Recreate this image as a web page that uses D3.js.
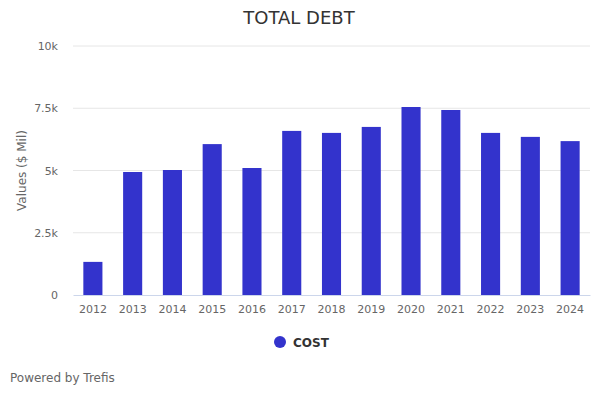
<!DOCTYPE html>
<html>
<head>
<meta charset="utf-8">
<script src="https://cdn.jsdelivr.net/npm/d3@7"></script>
<style>
  body { margin: 0; background: #fff; }
  text { font-family: "DejaVu Sans", sans-serif; }
</style>
</head>
<body>
<div id="chart"></div>
<script>
var years = ["2012", "2013", "2014", "2015", "2016", "2017", "2018", "2019", "2020", "2021", "2022", "2023", "2024"];
var cost = [1330, 4940, 5020, 6060, 5100, 6590, 6510, 6750, 7550, 7430, 6510, 6350, 6180];
var yTicks = [0, 2500, 5000, 7500, 10000];
var yTickLabels = ["0", "2.5k", "5k", "7.5k", "10k"];

var width = 600, height = 400,
    margin = {top: 46, right: 10, bottom: 105, left: 73};

var svg = d3.select("#chart").append("svg")
            .attr("width", width)
            .attr("height", height);

var x = d3.scaleBand()
          .domain(years)
          .range([margin.left, width - margin.right])
          .paddingInner(0.52)
          .paddingOuter(0.26);

var y = d3.scaleLinear()
          .domain([0, 10000])
          .range([height - margin.bottom, margin.top]);

/* grid */
svg.append("g").attr("class", "grid")
   .selectAll("line")
   .data(yTicks.slice(1))
   .enter().append("line")
   .attr("x1", margin.left)
   .attr("x2", width - margin.right)
   .attr("y1", function(d) { return y(d); })
   .attr("y2", function(d) { return y(d); })
   .attr("stroke", "#e6e6e6")
   .attr("stroke-width", 1);

/* bars */
svg.append("g").selectAll("rect")
   .data(cost)
   .enter().append("rect")
   .attr("x", function(d, i) { return x(years[i]); })
   .attr("y", function(d) { return y(d); })
   .attr("width", x.bandwidth())
   .attr("height", function(d) { return y(0) - y(d); })
   .attr("fill", "#3333cc");

/* x axis */
var xAxis = svg.append("g")
   .attr("transform", "translate(0," + y(0) + ")")
   .call(d3.axisBottom(x).tickSize(0).tickPadding(10));
xAxis.select(".domain").attr("stroke", "#ccd6eb");
xAxis.selectAll("text")
   .attr("font-size", "11px")
   .attr("fill", "#666")
   .style("font-family", "'DejaVu Sans', sans-serif");

/* y axis */
var yAxis = svg.append("g")
   .attr("transform", "translate(" + margin.left + ",0)")
   .call(d3.axisLeft(y).tickValues(yTicks).tickSize(0).tickPadding(15)
           .tickFormat(function(d, i) { return yTickLabels[i]; }));
yAxis.select(".domain").remove();
yAxis.selectAll("text")
   .attr("font-size", "11px")
   .attr("fill", "#666")
   .style("font-family", "'DejaVu Sans', sans-serif");

/* y axis title */
svg.append("text")
   .attr("transform", "translate(26," + ((y(0) + y(10000)) / 2) + ") rotate(-90)")
   .attr("text-anchor", "middle")
   .attr("font-size", "12px")
   .attr("fill", "#666")
   .text("Values ($ Mil)");

/* title */
svg.append("text")
   .attr("x", 299)
   .attr("y", 24)
   .attr("text-anchor", "middle")
   .attr("font-size", "18px")
   .attr("fill", "#333")
   .text("TOTAL DEBT");

/* legend */
var legend = svg.append("g").attr("transform", "translate(280,342)");
legend.append("circle")
   .attr("r", 6)
   .attr("fill", "#3333cc");
legend.append("text")
   .attr("x", 13)
   .attr("y", 5)
   .attr("font-size", "12px")
   .attr("font-weight", "bold")
   .attr("fill", "#333")
   .text("COST");

/* credits */
svg.append("text")
   .attr("x", 10)
   .attr("y", 382)
   .attr("font-size", "12px")
   .attr("fill", "#666")
   .text("Powered by Trefis");
</script>
</body>
</html>
